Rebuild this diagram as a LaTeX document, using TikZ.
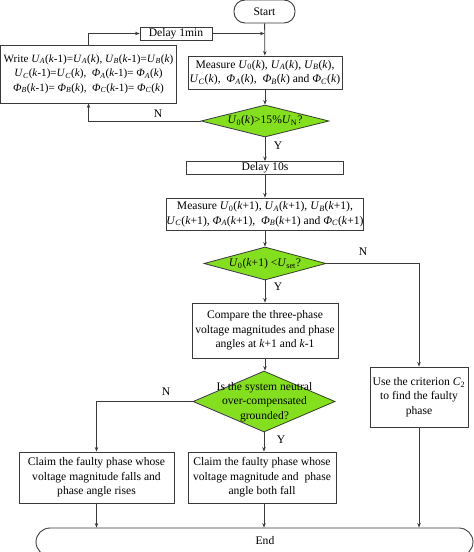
\documentclass[tikz,border=0pt]{standalone}
\usepackage{fontspec}
\setmainfont{Liberation Serif}
\usetikzlibrary{shapes.geometric,arrows.meta}
\newcommand\qv[3]{\textit{#1}\textsubscript{#2}(#3)}
\newcommand\kk{\textit{k}}
\definecolor{lncol}{HTML}{3A3A3A}
\definecolor{dgreen}{RGB}{132,224,30}
\tikzset{
  every node/.style={font=\fontsize{11.6}{14.5}\selectfont, text=black},
  box/.style={draw=lncol, line width=0.9pt, rectangle, align=center, inner sep=0pt},
  term/.style={draw=lncol, line width=0.9pt, rectangle, align=center},
  dia/.style={draw=lncol, line width=0.8pt, fill=dgreen, diamond, inner sep=0pt},
  conn/.style={draw=lncol, line width=0.8pt, -{Stealth[length=4.5pt,width=3.5pt]}},
  lab/.style={inner sep=0pt, align=center}
}
\begin{document}
\begin{tikzpicture}[x=1pt,y=-1pt]
\useasboundingbox (0,0) rectangle (474,552);
% nodes
\node[term, rounded corners=11pt, minimum width=61, minimum height=23] (start) at (264.5,11.5) {Start};
\node[box, minimum width=72, minimum height=13] (delay1) at (176,33.5) {Delay 1min};
\node[box, minimum width=176, minimum height=58, font=\fontsize{11.1}{14.5}\selectfont] (write) at (88.5,74) {Write \qv{U}{\textit{A}}{\kk-1}=\qv{U}{\textit{A}}{\kk}, \qv{U}{\textit{B}}{\kk-1}=\qv{U}{\textit{B}}{\kk}\\
\qv{U}{\textit{C}}{\kk-1}=\qv{U}{\textit{C}}{\kk},\ \ \qv{Φ}{\textit{A}}{\kk-1}= \qv{Φ}{\textit{A}}{\kk}\\
\qv{Φ}{\textit{B}}{\kk-1}= \qv{Φ}{\textit{B}}{\kk},\ \ \qv{Φ}{\textit{C}}{\kk-1}= \qv{Φ}{\textit{C}}{\kk}};
\node[box, minimum width=154, minimum height=33] (meas1) at (265,72.5) {Measure \qv{U}{0}{\kk}, \qv{U}{\textit{A}}{\kk}, \qv{U}{\textit{B}}{\kk},\\
\qv{U}{\textit{C}}{\kk},\ \ \qv{Φ}{\textit{A}}{\kk},\ \ \qv{Φ}{\textit{B}}{\kk} and \qv{Φ}{\textit{C}}{\kk}};
\node[dia, minimum width=128, minimum height=32] (dia1) at (265,121) {};
\node[lab] (dia1t) at (dia1) {\qv{U}{0}{\kk}>15\%\textit{U}\textsubscript{N}?};
\node[box, minimum width=157, minimum height=13] (delay2) at (265,168) {Delay 10s};
\node[box, minimum width=196, minimum height=32] (meas2) at (265,214) {Measure \qv{U}{0}{\kk+1}, \qv{U}{\textit{A}}{\kk+1}, \qv{U}{\textit{B}}{\kk+1},\\
\qv{U}{\textit{C}}{\kk+1}, \qv{Φ}{\textit{A}}{\kk+1},\ \ \qv{Φ}{\textit{B}}{\kk+1} and \qv{Φ}{\textit{C}}{\kk+1}};
\node[dia, minimum width=122, minimum height=33] (dia2) at (265,263.5) {};
\node[lab] (dia2t) at (dia2) {\qv{U}{0}{\kk+1} <\textit{U}\textsubscript{set}?};
\node[box, minimum width=146, minimum height=55] (cmp) at (265,330.5) {Compare the three-phase\\voltage magnitudes and phase\\angles at \kk+1 and \kk-1};
\node[dia, minimum width=142, minimum height=61] (dia3) at (264,401.5) {};
\node[lab] (dia3t) at (264.5,402) {Is the system neutral\\over-compensated\\grounded?};
\node[box, minimum width=98, minimum height=60] (use) at (419,397) {Use the criterion \textit{C}\textsubscript{2}\\to find the faulty\\phase};
\node[box, minimum width=155, minimum height=51] (claimN) at (96.5,477.5) {Claim the faulty phase whose\\voltage magnitude falls and\\phase angle rises};
\node[box, minimum width=148, minimum height=51] (claimY) at (262,477.5) {Claim the faulty phase whose\\voltage magnitude and\ \ phase\\angle both fall};
\node[term, rounded corners=14pt, minimum width=437, minimum height=28] (end) at (254.5,542) {};
\node[lab] (endt) at (265,541) {End};
% connectors
\draw[conn] (start) -- (meas1);
\draw[conn] (write.north) |- (delay1.west);
\draw[conn] (delay1.east) -- (delay1.east -| start.south);
\draw[conn] (meas1) -- (dia1);
\draw[conn] (dia1.west) -| (write.south);
\node[lab] (n1) at (158,114) {N};
\draw[conn] (dia1) -- (delay2);
\node[lab] (y1) at (278,146) {Y};
\draw[conn] (delay2) -- (meas2);
\draw[conn] (meas2) -- (dia2);
\draw[conn] (dia2.east) -| (use.north);
\node[lab] (n2) at (363,252) {N};
\draw[conn] (dia2) -- (cmp);
\node[lab] (y2) at (278,287) {Y};
\draw[conn] (cmp.south) -- (cmp.south |- dia3.north);
\draw[conn] (dia3.west) -| (claimN.north);
\node[lab] (n3) at (166,392) {N};
\draw[conn] (dia3.south) -- (dia3.south |- claimY.north);
\node[lab] (y3) at (281,440) {Y};
\draw[conn] (claimN.south) -- (claimN.south |- end.north);
\draw[conn] (dia3.south |- claimY.south) -- (dia3.south |- end.north);
\draw[conn] (use.south) -- (use.south |- end.north);
\end{tikzpicture}
\end{document}
